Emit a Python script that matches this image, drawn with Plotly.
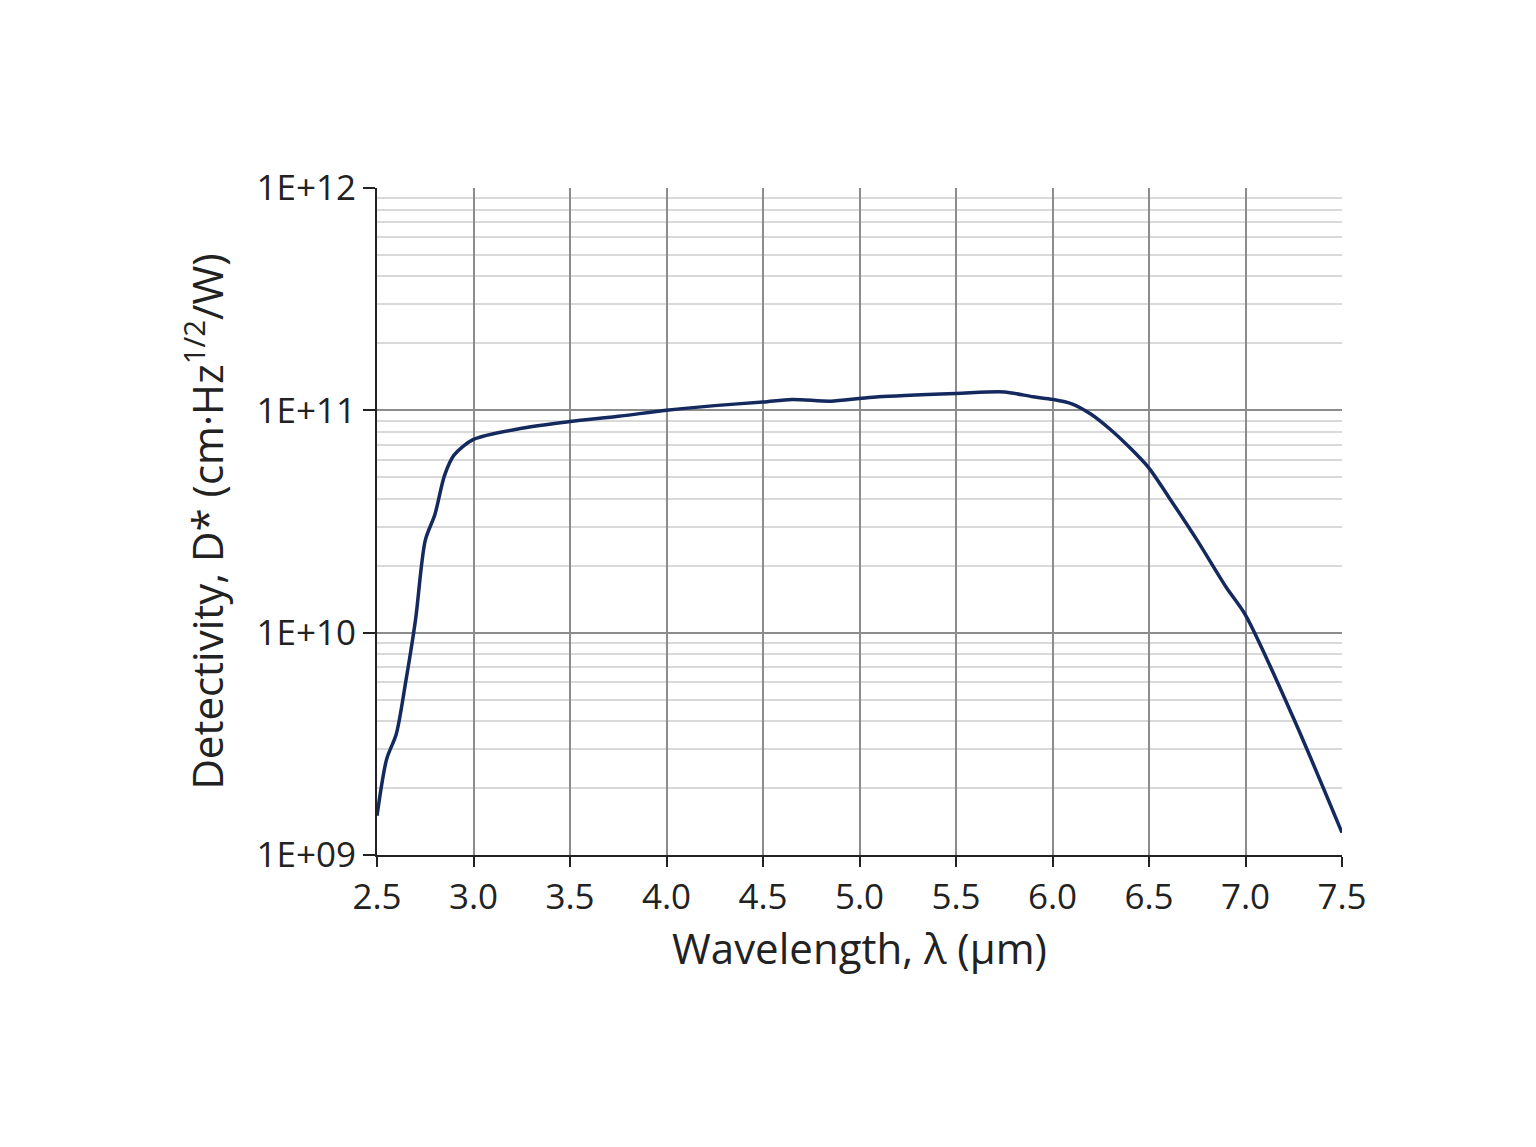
import plotly.graph_objects as go

wavelength = [2.5, 2.55, 2.6, 2.65, 2.7, 2.75, 2.8, 2.85, 2.9, 3.0, 3.25, 3.5, 3.75, 4.0, 4.25, 4.5,
              4.65, 4.85, 5.0, 5.1, 5.5, 5.75, 5.9, 6.0, 6.1, 6.2, 6.3, 6.4, 6.5, 6.6, 6.75, 6.9,
              7.0, 7.25, 7.5]
detectivity = [1.5e9, 2.7e9, 3.5e9, 6.1e9, 1.15e10, 2.6e10, 3.4e10, 5.1e10, 6.3e10, 7.4e10, 8.3e10,
               8.9e10, 9.4e10, 1.0e11, 1.05e11, 1.09e11, 1.12e11, 1.10e11, 1.13e11, 1.15e11, 1.19e11,
               1.21e11, 1.15e11, 1.12e11, 1.07e11, 9.6e10, 8.2e10, 6.8e10, 5.5e10, 4.1e10, 2.6e10,
               1.6e10, 1.2e10, 4.1e9, 1.26e9]
x_ticks = [2.5, 3.0, 3.5, 4.0, 4.5, 5.0, 5.5, 6.0, 6.5, 7.0, 7.5]
y_ticks = [1e9, 1e10, 1e11, 1e12]
y_labels = ["1E+09", "1E+10", "1E+11", "1E+12"]

fig = go.Figure(go.Scatter(x=wavelength, y=detectivity, mode="lines",
                           line=dict(color="#14295e", width=3.5, shape="spline", smoothing=0.8)))
font = dict(family="Open Sans", size=35, color="#222")
fig.update_layout(
    width=1536, height=1147, paper_bgcolor="white", plot_bgcolor="white",
    margin=dict(l=369, r=202, t=180, b=300), showlegend=False, font=font,
    xaxis=dict(range=[2.5, 7.5], tickvals=x_ticks, ticktext=[f"{v:.1f}" for v in x_ticks],
               showgrid=True, gridcolor="#8c8c8c", gridwidth=2, zeroline=False,
               showline=True, linecolor="#222", linewidth=2, ticks="outside", ticklen=10,
               tickwidth=2, tickcolor="#222",
               title=dict(text="Wavelength, λ (µm)", standoff=2)),
    yaxis=dict(type="log", range=[9, 12], tickvals=y_ticks, ticktext=y_labels,
               showgrid=True, gridcolor="#8c8c8c", gridwidth=2, zeroline=False,
               showline=True, linecolor="#222", linewidth=2, ticks="outside", ticklen=12,
               tickwidth=2, tickcolor="#222",
               minor=dict(dtick="D1", showgrid=True, gridcolor="#d9d9d9", gridwidth=2),
               title=dict(text="Detectivity, D* (cm·Hz<sup>1/2</sup>/W)", standoff=20)),
)
fig.write_html("out.html")
